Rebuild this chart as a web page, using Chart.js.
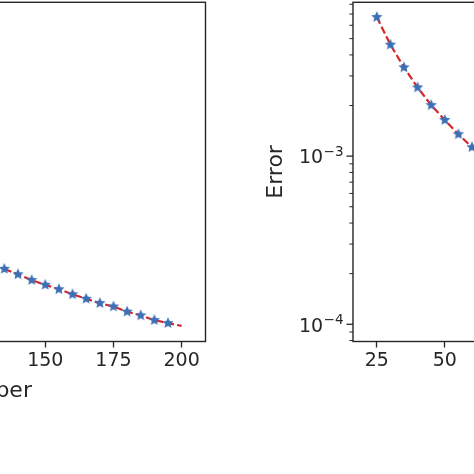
<!DOCTYPE html>
<html>
<head>
<meta charset="utf-8">
<script src="https://cdn.jsdelivr.net/npm/chart.js@4.4.0/dist/chart.umd.min.js"></script>
<style>
  html, body { margin: 0; padding: 0; background: #fff; }
  #stage { position: relative; width: 474px; height: 474px; overflow: hidden; background: #fff; }
  .panel { position: absolute; top: 0; height: 474px; }
  #leftPanel { left: -400px; width: 620px; }
  #rightPanel { left: 250px; width: 650px; }
</style>
</head>
<body>
<div id="stage">
  <div class="panel" id="leftPanel"><canvas id="leftChart"></canvas></div>
  <div class="panel" id="rightPanel"><canvas id="rightChart"></canvas></div>
</div>
<script>
const xTicks = [25, 50, 75, 100, 125, 150, 175, 200];
const errorTicks = [8e-5, 9e-5,
    1e-4, 2e-4, 3e-4, 4e-4, 5e-4, 6e-4, 7e-4, 8e-4, 9e-4,
    1e-3, 2e-3, 3e-3, 4e-3, 5e-3, 6e-3, 7e-3, 8e-3];

// left panel: its y axis is outside the crop, so values are fractions of the axis height
const leftNumber = [135, 140, 145, 150, 155, 160, 165, 170, 175, 180, 185, 190, 195];
const leftValue = [0.214, 0.198, 0.181, 0.167, 0.154, 0.139, 0.126, 0.113, 0.103, 0.088, 0.077, 0.063, 0.054];
const leftFitNumber = [135, 140, 145, 150, 155, 160, 165, 170, 175, 180, 185, 190, 195, 200];
const leftFitValue = [0.214, 0.198, 0.181, 0.167, 0.154, 0.139, 0.126, 0.113, 0.103, 0.088, 0.077, 0.063, 0.054, 0.046];

// right panel
const rightNumber = [25, 30, 35, 40, 45, 50, 55, 60];
const rightError = [6.71e-3, 4.60e-3, 3.37e-3, 2.56e-3, 2.01e-3, 1.64e-3, 1.35e-3, 1.13e-3];

const FONT = 'DejaVu Sans';
const INK = '#262626';
const STAR_BLUE = '#3b6fb6';
const FIT_RED = '#d62728';

function makeStar(r, color) {
    const size = Math.ceil(r * 2 + 2);
    const c = document.createElement('canvas');
    c.width = size;
    c.height = size;
    const g = c.getContext('2d');
    g.fillStyle = color;
    g.beginPath();
    for (let i = 0; i < 10; i++) {
        const rad = i % 2 === 0 ? r : r * 0.45;
        const a = -Math.PI / 2 + i * Math.PI / 5;
        const px = size / 2 + rad * Math.cos(a);
        const py = size / 2 + rad * Math.sin(a);
        if (i === 0) g.moveTo(px, py); else g.lineTo(px, py);
    }
    g.closePath();
    g.fill();
    return c;
}

const starImg = makeStar(6, STAR_BLUE);

const isDecade = v => Math.abs(Math.log10(v) - Math.round(Math.log10(v))) < 1e-6;

const pts = (xs, ys) => xs.map((x, i) => ({ x, y: ys[i] }));

// box round the plot area, like matplotlib spines
const framePlugin = {
    id: 'frame',
    afterDraw(chart) {
        const { ctx, chartArea: a } = chart;
        ctx.save();
        ctx.strokeStyle = INK;
        ctx.lineWidth = 1.4;
        ctx.strokeRect(a.left, a.top, a.right - a.left, a.bottom - a.top);
        ctx.restore();
    }
};

// major / minor tick marks and 10^n labels on the log axis
const logTickPlugin = {
    id: 'logTicks',
    afterDraw(chart) {
        const y = chart.scales.y;
        const ctx = chart.ctx;
        const left = chart.chartArea.left;
        ctx.save();
        ctx.strokeStyle = INK;
        ctx.fillStyle = INK;
        y.ticks.forEach(t => {
            const py = y.getPixelForValue(t.value);
            const major = isDecade(t.value);
            ctx.lineWidth = major ? 1.3 : 1.0;
            ctx.beginPath();
            ctx.moveTo(left - (major ? 6.5 : 3.6), py);
            ctx.lineTo(left, py);
            ctx.stroke();
            if (!major) return;
            const exp = '\u2212' + Math.abs(Math.round(Math.log10(t.value)));
            const right = left - 9.5;
            ctx.textBaseline = 'alphabetic';
            ctx.textAlign = 'right';
            ctx.font = '13.5px "' + FONT + '"';
            const expW = ctx.measureText(exp).width;
            ctx.fillText(exp, right, py - 0.5);
            ctx.font = '19px "' + FONT + '"';
            ctx.fillText('10', right - expW - 0.5, py + 7.3);
        });
        ctx.restore();
    }
};

function xAxis() {
    return {
        type: 'linear',
        min: 16.25,
        max: 208.75,
        afterBuildTicks: s => { s.ticks = xTicks.map(v => ({ value: v })); },
        afterFit: s => { s.height = 474 - 341.5; },
        border: { display: false },
        grid: { drawOnChartArea: false, drawTicks: true, tickLength: 6, tickColor: INK, tickWidth: 1.3 },
        ticks: { color: INK, font: { family: FONT, size: 19 }, padding: 2.5, autoSkip: false, maxRotation: 0 },
        title: { display: true, text: 'Sample Number', color: INK, font: { family: FONT, size: 22 },
            padding: { top: 0, bottom: 70 } }
    };
}

function datasets(xs, ys, fx, fy) {
    return [
        { data: pts(xs, ys), showLine: false, pointStyle: starImg, pointRadius: 6, order: 1 },
        { data: pts(fx, fy), showLine: true, pointRadius: 0, borderColor: FIT_RED, borderWidth: 2.2,
            borderDash: [7.5, 3.2], fill: false, tension: 0, order: 2 }
    ];
}

const common = {
    responsive: true,
    maintainAspectRatio: false,
    animation: false,
    plugins: { legend: { display: false }, tooltip: { enabled: false } }
};

new Chart(document.getElementById('leftChart'), {
    type: 'scatter',
    data: { datasets: datasets(leftNumber, leftValue, leftFitNumber, leftFitValue) },
    options: {
        ...common,
        layout: { autoPadding: false, padding: { left: 80.5, right: 14.5, top: 2.3, bottom: 0 } },
        scales: {
            x: xAxis(),
            y: { type: 'linear', min: 0, max: 1, display: false }
        }
    },
    plugins: [framePlugin]
});

new Chart(document.getElementById('rightChart'), {
    type: 'scatter',
    data: { datasets: datasets(rightNumber, rightError, rightNumber, rightError) },
    options: {
        ...common,
        layout: { autoPadding: false, padding: { left: 0, right: 23.4, top: 2.3, bottom: 0 } },
        scales: {
            x: xAxis(),
            y: {
                type: 'logarithmic',
                min: 7.9e-5,
                max: 8.22e-3,
                afterBuildTicks: s => { s.ticks = errorTicks.map(v => ({ value: v })); },
                afterFit: s => { s.width = 103; s.paddingTop = 0; s.paddingBottom = 0; },
                border: { display: false },
                grid: { display: false, drawTicks: false },
                ticks: { display: false },
                title: { display: true, text: 'Error', color: INK, font: { family: FONT, size: 22 },
                    padding: { top: 12.8, bottom: 0 } }
            }
        }
    },
    plugins: [framePlugin, logTickPlugin]
});
</script>
</body>
</html>
